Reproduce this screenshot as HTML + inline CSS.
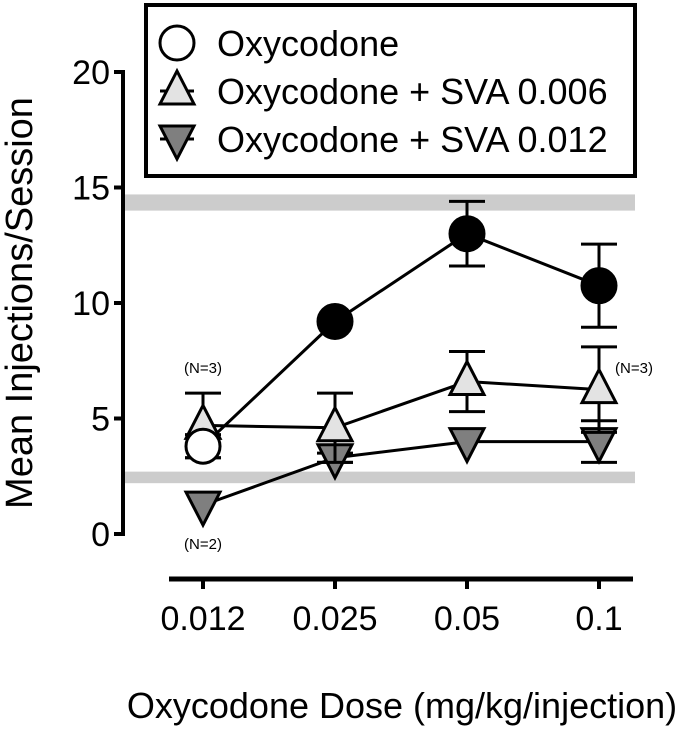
<!DOCTYPE html>
<html><head><meta charset="utf-8"><style>
html,body{margin:0;padding:0;background:#fff;}
svg{display:block;font-family:"Liberation Sans",Arial,sans-serif;}
</style></head><body>
<svg id="chart" width="685" height="733" viewBox="0 0 685 733">
<g id="bands"></g>
<g id="axes"></g>
<g id="series"></g>
<g id="legend">
<rect x="146" y="5" width="489" height="171" fill="#fff" stroke="#000" stroke-width="4"/>
</g>
</svg>
<script>
const categories = ["0.012","0.025","0.05","0.1"];
const yTicks = [0,5,10,15,20];
const oxyMean = [3.8, 9.2, 13.0, 10.75];
const oxyErr = [0.5, 0, 1.4, 1.8];
const sva006Mean = [4.7, 4.6, 6.6, 6.25];
const sva006Err = [1.4, 1.5, 1.3, 1.85];
const sva012Mean = [1.25, 3.3, 4.0, 4.0];
const sva012Err = [0, 0.2, 0, 0.9];
const bandValues = [[14.0, 14.7], [2.2, 2.7]];
const seriesNames = ["Oxycodone","Oxycodone + SVA 0.006","Oxycodone + SVA 0.012"];

const NS="http://www.w3.org/2000/svg";
function yS(v){return 534 - v*23.1;}
function xS(i){return 203 + i*132;}
function mk(tag,attrs,parent){const e=document.createElementNS(NS,tag);for(const k in attrs)e.setAttribute(k,attrs[k]);parent.appendChild(e);return e;}

const bands=document.getElementById('bands');
bandValues.forEach((b,i)=>{
  const r=mk('rect',{x:124,y:yS(b[1]),width:511,height:yS(b[0])-yS(b[1]),fill:'#cccccc'},bands);
  
  
});

const axes=document.getElementById('axes');
const ya=mk('line',{x1:123,y1:yS(20)-2,x2:123,y2:yS(0)+2,stroke:'#000','stroke-width':4},axes);


yTicks.forEach(t=>{
  const tk=mk('line',{x1:114,y1:yS(t),x2:123,y2:yS(t),stroke:'#000','stroke-width':4},axes);
  
  
  const tx=mk('text',{x:110,y:yS(t)+12,'text-anchor':'end','font-size':34},axes);
  tx.textContent=t;
  
  
});
const xa=mk('line',{x1:169,y1:579,x2:633,y2:579,stroke:'#000','stroke-width':5},axes);


categories.forEach((c,i)=>{
  const tk=mk('line',{x1:xS(i),y1:579,x2:xS(i),y2:589,stroke:'#000','stroke-width':4},axes);
  
  
  const tx=mk('text',{x:xS(i),y:630,'text-anchor':'middle','font-size':34},axes);
  tx.textContent=c;
  
  
});
const xt=mk('text',{x:402,y:718,'text-anchor':'middle','font-size':36},axes);
xt.textContent='Oxycodone Dose (mg/kg/injection)';


const yt=mk('text',{x:0,y:0,'text-anchor':'middle','font-size':38,transform:'translate(32,303) rotate(-90)'},axes);
yt.textContent='Mean Injections/Session';



const ser=document.getElementById('series');
function marker(shape,cx,cy,fill,parent){
  if(shape==='circle') return mk('circle',{cx:cx,cy:cy,r:17,fill:fill,stroke:'#000','stroke-width':3},parent);
  if(shape==='up') return mk('polygon',{points:`${cx},${cy-20} ${cx-17},${cy+13} ${cx+17},${cy+13}`,fill:fill,stroke:'#000','stroke-width':3},parent);
  return mk('polygon',{points:`${cx},${cy+20} ${cx-17},${cy-13} ${cx+17},${cy-13}`,fill:fill,stroke:'#000','stroke-width':3},parent);
}
function drawSeries(name,means,errs,shape,fills){
  const g=mk('g',{},ser);
  
  
  const pts=means.map((m,i)=>xS(i)+','+yS(m)).join(' ');
  const pl=mk('polyline',{points:pts,fill:'none',stroke:'#000','stroke-width':3},g);
  
  
  means.forEach((m,i)=>{
    const e=errs[i];
    if(e>0){
      const eb=mk('g',{stroke:'#000','stroke-width':3},g);
      
      
      mk('line',{x1:xS(i),y1:yS(m+e),x2:xS(i),y2:yS(m-e)},eb);
      mk('line',{x1:xS(i)-18,y1:yS(m+e),x2:xS(i)+18,y2:yS(m+e)},eb);
      mk('line',{x1:xS(i)-18,y1:yS(m-e),x2:xS(i)+18,y2:yS(m-e)},eb);
    }
  });
  means.forEach((m,i)=>{
    const p=marker(shape,xS(i),yS(m),fills[i],g);
    
    
  });
}
drawSeries('series-sva-0-012',sva012Mean,sva012Err,'down',['#7f7f7f','#7f7f7f','#7f7f7f','#7f7f7f']);
drawSeries('series-sva-0-006',sva006Mean,sva006Err,'up',['#e3e3e3','#e3e3e3','#e3e3e3','#e3e3e3']);
drawSeries('series-oxycodone',oxyMean,oxyErr,'circle',['#fff','#000','#000','#000']);

[['(N=3)',xS(0),373],['(N=3)',xS(3)+35,373],['(N=2)',xS(0),549]].forEach(a=>{
  const t=mk('text',{x:a[1],y:a[2],'text-anchor':'middle','font-size':15},ser);
  t.textContent=a[0];
  
  
});

const lg=document.getElementById('legend');
const lshapes=['circle','up','down'];
const lfills=['#fff','#e3e3e3','#7f7f7f'];
const lys=[43,91,139];
seriesNames.forEach((n,i)=>{
  const ge=mk('g',{},lg);
  
  
  if(i>0) mk('line',{x1:160,y1:lys[i],x2:194,y2:lys[i],stroke:'#000','stroke-width':3},ge);
  marker(lshapes[i],177,lys[i],lfills[i],ge);
  const t=mk('text',{x:217,y:lys[i]+13,'font-size':36},ge);
  t.textContent=n;
});
</script>
</body></html>
